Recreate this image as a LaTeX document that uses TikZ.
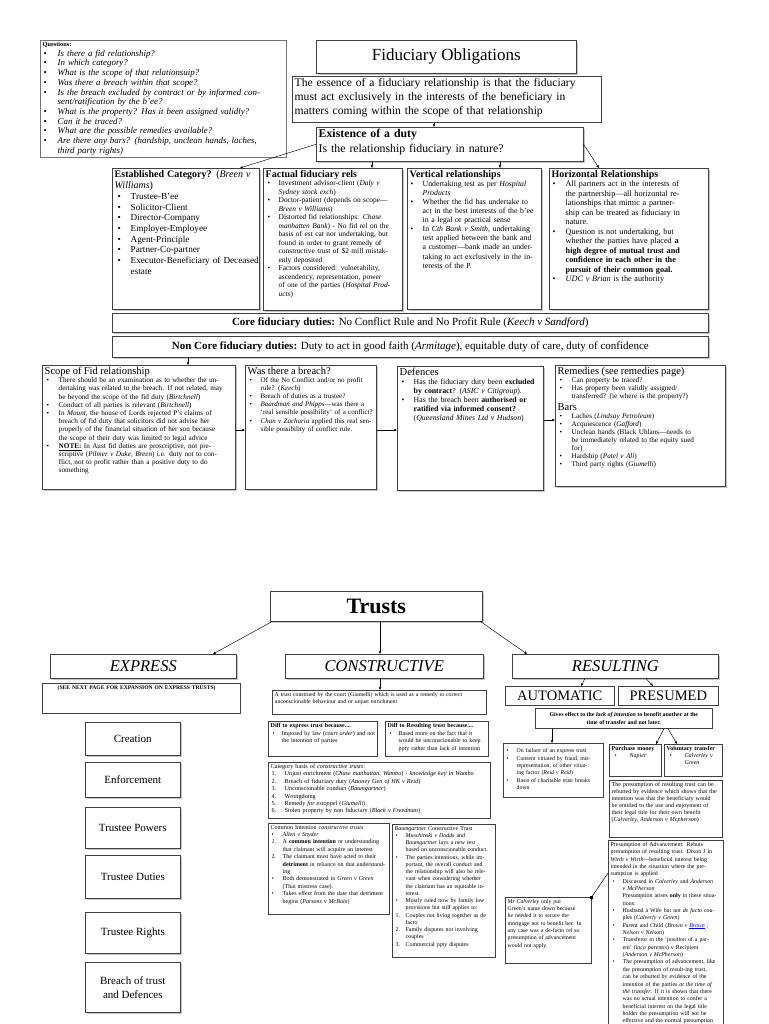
\documentclass[tikz,border=0pt]{standalone}
\usepackage{fontspec}
\setmainfont{Liberation Serif}
\usetikzlibrary{arrows.meta,shadows}
\newlength\bulind
\newlength\buloff
\newcommand\bitem{\par\hangindent=\bulind\hangafter=1\noindent\hbox to\bulind{\hskip\buloff\textbullet\hfil}\ignorespaces}
\newcommand\nitem[1]{\par\hangindent=\bulind\hangafter=1\noindent\hbox to\bulind{\hskip\buloff #1\hfil}\ignorespaces}
\newcommand\tbx[8]{%
  \pgfmathsetmacro\bxw{#4-#2}%
  \pgfmathsetmacro\bxh{#5-#3}%
  \pgfmathsetmacro\bxt{#4-#2+6}%
  \node[#6,anchor=north west,minimum width=\bxw pt,minimum height=\bxh pt,inner sep=0pt] (#1) at (#2,#3) {};
  \node[anchor=north west,inner sep=0pt,text width=\bxt pt,#7] (#1-t) at ([xshift=2.5pt,yshift=-2pt]#1.north west) {\raggedright\let\\\newline #8\par};%
}
\newcommand\cbx[7]{%
  \pgfmathsetmacro\bxw{#4-#2}%
  \pgfmathsetmacro\bxh{#5-#3}%
  \node[#6,anchor=north west,minimum width=\bxw pt,minimum height=\bxh pt,inner sep=1pt] (#1) at (#2,#3) {#7};%
}
\tikzset{
  bx/.style={draw=black!75,line width=0.6pt,fill=white},
  lbx/.style={bx,drop shadow={shadow xshift=1pt,shadow yshift=-1pt,fill=black!30}},
  sbx/.style={bx,drop shadow={shadow xshift=1.4pt,shadow yshift=-1.4pt,fill=black!45}},
  qbx/.style={draw=black!55,line width=0.9pt,fill=white},
  ar/.style={-{Stealth[length=3.2pt,width=2.6pt]},line width=0.45pt},
}
\begin{document}
\begin{tikzpicture}[x=1pt,y=-1pt]
\fill[white] (0,0) rectangle (768,1024);
\useasboundingbox (0,0) rectangle (768,1024);

% ---------------- Fiduciary obligations ----------------
\tbx{q}{40}{40}{286}{157}{qbx}{font=\fontsize{8.9}{9.7}\selectfont\itshape}{\setlength\bulind{15pt}\setlength\buloff{1pt}%
{\fontsize{6.3}{7.5}\selectfont\upshape\bfseries Questions:\par}%
\bitem Is there a fid relationship?
\bitem In which category?
\bitem What is the scope of that relationsuip?
\bitem Was there a breach within that scope?
\bitem Is the breach excluded by contract or by informed con-\\sent/ratification by the b’ee?
\bitem What is the property? Has it been assigned validly?
\bitem Can it be traced?
\bitem What are the possible remedies available?
\bitem Are there any bars? (hardship, unclean hands, laches,\\third party rights)}

\cbx{fo}{316}{40}{576}{73}{sbx,font=\fontsize{17}{19}\selectfont}{Fiduciary Obligations}

\tbx{es}{292}{76}{601}{122}{bx}{font=\fontsize{11.6}{14.2}\selectfont}{\noindent The essence of a fiduciary relationship is that the fiduciary\\must act exclusively in the interests of the beneficiary in\\matters coming within the scope of that relationship}

\tbx{ex}{316}{127}{583}{161}{sbx}{font=\fontsize{11.8}{14.5}\selectfont}{\noindent\textbf{Existence of a duty}\\Is the relationship fiduciary in nature?}

\tbx{est}{112}{168}{259}{309}{sbx}{font=\fontsize{9.2}{10.7}\selectfont}{\setlength\bulind{16pt}\setlength\buloff{3pt}%
{\fontsize{10}{11.5}\selectfont\noindent\textbf{Established Category?} (\textit{Breen v\\Williams})\par}%
\bitem Trustee-B’ee
\bitem Solicitor-Client
\bitem Director-Company
\bitem Employer-Employee
\bitem Agent-Principle
\bitem Partner-Co-partner
\bitem Executor-Beneficiary of Deceased\\estate}

\tbx{fac}{263}{168}{402}{310}{sbx}{font=\fontsize{7.4}{8.5}\selectfont}{\setlength\bulind{13pt}\setlength\buloff{2pt}%
{\fontsize{10}{11.5}\selectfont\noindent\bfseries Factual fiduciary rels\par}%
\bitem Investment advisor-client (\textit{Daly v\\Sydney stock exch})
\bitem Doctor-patient (depends on scope—\\\textit{Breen v Williams})
\bitem Distorted fid relationships: \textit{Chase\\manhatten Bank}) - No fid rel on the\\basis of est cat nor undertaking, but\\found in order to grant remedy of\\constructive trust of \$2 mill mistak-\\enly deposited
\bitem Factors considered: vulnerability,\\ascendency, representation, power\\of one of the parties (\textit{Hospital Prod-\\ucts})}

\tbx{ver}{407}{168}{541}{309}{sbx}{font=\fontsize{7.8}{9.1}\selectfont}{\setlength\bulind{13pt}\setlength\buloff{1pt}%
{\fontsize{10}{11.5}\selectfont\noindent\bfseries Vertical relationships\par}%
\bitem Undertaking test as per \textit{Hospital\\Products}
\bitem Whether the fid has undertake to\\act in the best interests of the b’ee\\in a legal or practical sense
\bitem In \textit{Cth Bank v Smith}, undertaking\\test applied between the bank and\\a customer—bank made an under-\\taking to act exclusively in the in-\\terests of the P.}

\tbx{hor}{549}{168}{708}{309}{sbx}{font=\fontsize{8.2}{9.5}\selectfont}{\setlength\bulind{14pt}\setlength\buloff{1pt}%
{\fontsize{10}{11.5}\selectfont\noindent\bfseries Horizontal Relationships\par}%
\bitem All partners act in the interests of\\the partnership—all horizontal re-\\lationships that mimic a partner-\\ship can be treated as fiduciary in\\nature.
\bitem Question is not undertaking, but\\whether the parties have placed \textbf{a\\high degree of mutual trust and\\confidence in each other in the\\pursuit of their common goal.}
\bitem \textit{UDC v Brian} is the authority}

\cbx{core}{112}{313}{708}{332}{sbx,font=\fontsize{11}{12}\selectfont}{\textbf{Core fiduciary duties:} No Conflict Rule and No Profit Rule (\textit{Keech v Sandford})}
\cbx{nc}{112}{336}{708}{357}{sbx,font=\fontsize{11}{12}\selectfont}{\textbf{Non Core fiduciary duties:} Duty to act in good faith (\textit{Armitage}), equitable duty of care, duty of confidence}

\tbx{sc}{42}{365}{235}{489}{sbx}{font=\fontsize{7.2}{8.2}\selectfont}{\setlength\bulind{14pt}\setlength\buloff{2pt}%
{\fontsize{10.5}{12}\selectfont\noindent Scope of Fid relationship\par}%
\bitem There should be an examination as to whether the un-\\dertaking was related to the breach. If not related, may\\be beyond the scope of the fid duty (\textit{Birtchnell})
\bitem Conduct of all parties is relevant (\textit{Birtchnell})
\bitem In \textit{Mount}, the house of Lords rejected P’s claims of\\breach of fid duty that solicitors did not advise her\\properly of the financial situation of her son because\\the scope of their duty was limited to legal advice
\bitem \textbf{\underline{NOTE:}} In Aust fid duties are proscriptive, not pre-\\scriptive (\textit{Pilmer v Duke, Breen}) i.e. duty not to con-\\flict, not to profit rather than a positive duty to do\\something}

\tbx{br}{245}{365}{376}{489}{sbx}{font=\fontsize{7}{8.1}\selectfont}{\setlength\bulind{13pt}\setlength\buloff{2pt}%
{\fontsize{10.5}{12}\selectfont\noindent Was there a breach?\par}%
\bitem Of the No Conflict and/or no profit\\rule? (\textit{Keech})
\bitem Breach of duties as a trustee?
\bitem \textit{Boardman and Phipps}—was there a\\‘real sensible possibility’ of a conflict?
\bitem \textit{Chan v Zacharia} applied this real sen-\\sible possibility of conflict rule.}

\tbx{de}{397}{366}{543}{490}{sbx}{font=\fontsize{7.8}{9}\selectfont}{\setlength\bulind{14pt}\setlength\buloff{2pt}%
{\fontsize{10.5}{12}\selectfont\noindent Defences\par}%
\bitem Has the fiduciary duty been \textbf{excluded\\by contract}? (\textit{ASIC v Citigroup}).
\bitem Has the breach been \textbf{authorised or\\ratified via informed consent?}\\(\textit{Queensland Mines Ltd v Hudson})}

\tbx{re}{555}{365}{725}{486}{sbx}{font=\fontsize{7.2}{8.1}\selectfont}{\setlength\bulind{14pt}\setlength\buloff{2pt}%
{\fontsize{10.5}{11.5}\selectfont\noindent Remedies (see remedies page)\par}%
\bitem Can property be traced?
\bitem Has property been validly assigned/\\transferred? (ie where is the property?)
\par{\fontsize{10.5}{11.5}\selectfont\noindent Bars\par}%
\bitem Laches (\textit{Lindsay Petroleum})
\bitem Acquiescence (\textit{Gafford})
\bitem Unclean hands (Black Uhlans—needs to\\be immediately related to the equity sued\\for)
\bitem Hardship (\textit{Patel v Ali})
\bitem Third party rights (\textit{Giumelli})}

% ---------------- Trusts ----------------
\cbx{tr}{270}{591}{482}{621}{sbx,font=\fontsize{22}{24}\selectfont\bfseries}{Trusts}
\cbx{exp}{50}{654}{236}{678}{sbx,font=\fontsize{16.5}{18}\selectfont\itshape}{EXPRESS}
\cbx{con}{285}{654}{483}{678}{sbx,font=\fontsize{16.5}{18}\selectfont\itshape}{CONSTRUCTIVE}
\cbx{res}{512}{654}{718}{678}{sbx,font=\fontsize{16.5}{18}\selectfont\itshape}{RESULTING}

\tbx{see}{42}{683}{240}{713}{lbx}{font=\fontsize{5.6}{6.5}\selectfont\bfseries}{\noindent\hspace*{13pt}(SEE NEXT PAGE FOR EXPANSION ON EXPRESS TRUSTS)}
\tbx{desc}{272}{690}{486}{714}{lbx}{font=\fontsize{5.8}{7.2}\selectfont}{\noindent A trust construed by the court (Giumelli) which is used as a remedy to correct\\unconscionable behaviour and or unjust enrichment}

\cbx{auto}{505}{686}{614}{705}{lbx,font=\fontsize{14.5}{16}\selectfont}{AUTOMATIC}
\cbx{pres}{618}{686}{718}{705}{lbx,font=\fontsize{14.5}{16}\selectfont}{PRESUMED}
\cbx{gv}{535}{708}{712}{728}{lbx,font=\fontsize{5.9}{7.6}\selectfont\bfseries,align=center}{Gives effect to the \textit{lack of intention} to benefit another at the\\time of transfer and not later.}

\cbx{lc1}{85}{722}{180}{755}{sbx,font=\fontsize{11}{13}\selectfont}{Creation}
\cbx{lc2}{85}{762}{180}{797}{sbx,font=\fontsize{11}{13}\selectfont}{Enforcement}
\cbx{lc3}{85}{807}{180}{848}{sbx,font=\fontsize{11}{13}\selectfont}{Trustee Powers}
\cbx{lc4}{85}{855}{180}{898}{sbx,font=\fontsize{11}{13}\selectfont}{Trustee Duties}
\cbx{lc5}{85}{912}{180}{953}{sbx,font=\fontsize{11}{13}\selectfont}{Trustee Rights}
\cbx{lc6}{85}{962}{180}{1012}{sbx,font=\fontsize{11}{14}\selectfont,align=center}{Breach of trust\\and Defences}

\tbx{dx}{268}{721}{377}{756}{lbx}{font=\fontsize{6}{7.6}\selectfont}{\setlength\bulind{11pt}\setlength\buloff{2pt}%
\noindent\textbf{Diff to express trust because....}
\bitem Imposed by law (\textit{court order}) and not\\the intention of parties}
\tbx{dr}{385}{721}{488}{756}{lbx}{font=\fontsize{6}{7.6}\selectfont}{\setlength\bulind{11pt}\setlength\buloff{2pt}%
\noindent\textbf{Diff to Resulting trust because....}
\bitem Based more on the fact that it\\would be unconscionable to keep\\ppty rather than lack of intention}

\tbx{cat}{268}{762}{490}{818}{lbx}{font=\fontsize{6.2}{7.4}\selectfont}{\setlength\bulind{14pt}\setlength\buloff{1pt}%
\noindent Category basis of \textit{constructive trusts}:
\nitem{1.} Unjust enrichment (\textit{Chase manhattan, Wambo}) - \textit{knowledge key in Wambo}
\nitem{2.} Breach of fiduciary duty (\textit{Attoney Gen of HK v Reid})
\nitem{3.} Unconscionable conduct (\textit{Baumgartner})
\nitem{4.} Wrongdoing
\nitem{5.} Remedy \textit{for estoppel} (\textit{Giumelli})
\nitem{6.} Stolen property by non fiduciary (\textit{Black v Freedman})}

\tbx{ci}{268}{823}{389}{914}{lbx}{font=\fontsize{6}{7.4}\selectfont}{\setlength\bulind{12pt}\setlength\buloff{1pt}%
\noindent Common Intention \textit{constructive trusts}
\bitem \textit{Allen v Snyder}
\nitem{\textit{1.}} A \textbf{common intention} or understanding\\that claimant will acquire an interest
\nitem{2.} The claimant must have acted to their\\\textbf{detriment} in reliance on that understand-\\ing
\bitem Both demonstrated in \textit{Green v Green}\\(Thai mistress case).
\bitem Takes effect from the date that detriment\\begins (\textit{Parsons v McBain})}

\tbx{bg}{392}{824}{495}{957}{lbx}{font=\fontsize{5.9}{7.25}\selectfont}{\setlength\bulind{11pt}\setlength\buloff{1pt}%
\noindent\textit{Baumgartner} Constructive Trust
\bitem \textit{Muschinski v Dodds} and\\\textit{Baumgartner} lays a new test\\based on unconscionable conduct.
\bitem The parties intentions, while im-\\portant, the overall conduct and\\the relationship will also be rele-\\vant when considering whether\\the claimant has an equitable in-\\terest.
\bitem Mostly ruled now by family law\\provisions but still applies to:
\nitem{1.} Couples not living together as de\\facto
\nitem{2.} Family disputes not involving\\couples
\nitem{3.} Commercial ppty disputes}

\tbx{al}{503}{743}{603}{797}{lbx}{font=\fontsize{5.8}{7.4}\selectfont}{\setlength\bulind{11pt}\setlength\buloff{1pt}%
\bitem On failure of an express trust
\bitem Consent vitiated by fraud, mis-\\representation, or other vitiat-\\ing factor (\textit{Reid v Reid})
\bitem Basis of charitable trust breaks\\down}

\tbx{pm}{609}{744}{661}{776}{lbx}{font=\fontsize{6}{7.6}\selectfont}{\setlength\bulind{18pt}\setlength\buloff{3pt}%
\noindent\textbf{Purchase money}
\bitem \textit{Napier}}
\tbx{vt}{664}{744}{722}{776}{lbx}{font=\fontsize{6}{7.2}\selectfont}{\setlength\bulind{18pt}\setlength\buloff{3pt}%
\noindent\textbf{Voluntary transfer}
\bitem \textit{Calverley v\\Green}}

\tbx{rb}{609}{780}{722}{837}{lbx}{font=\fontsize{6}{7.1}\selectfont}{\noindent The presumption of resulting trust can be\\rebutted by evidence which shows that the\\intention was that the beneficiary would\\be entitled to the use and enjoyment of\\their legal title for their own benefit\\(\textit{Calverley, Anderson v Mcpherson})}

\tbx{adv}{608}{840}{723}{1040}{lbx}{font=\fontsize{5.9}{7.35}\selectfont}{\setlength\bulind{12pt}\setlength\buloff{2pt}%
\noindent Presumption of Advancement: Rebuts\\presumption of resulting trust. Dixon J in\\\textit{Wirth v Wirth}—beneficial interest being\\intended in the situation where the pre-\\sumption is applied
\bitem Discussed in \textit{Calverley} and \textit{Anderson\\v McPherson}\\Presumption arises \textbf{only} in these situa-\\tions:
\bitem Husband à Wife but not \textit{de facto} cou-\\ples (\textit{Calverly v Green})
\bitem Parent and Child (\textit{Brown v} \textcolor{blue}{\underline{\textit{Brown}}} ;\\\textit{Nelson v Nelson})
\bitem Transferor in the ‘position of a par-\\ent’ (\textit{loco parentis}) v Recipient\\(\textit{Anderson v McPherson})
\bitem The presumption of advancement, like\\the presumption of result-ing trust,\\can be rebutted by evidence of the\\intention of the parties \textit{at the time of\\the transfer}. If it is shown that there\\was no actual intention to confer a\\beneficial interest on the legal title\\holder the presumption will not be\\effective and the normal presumption}

\tbx{cal}{505}{897}{591}{963}{lbx}{font=\fontsize{5.8}{7.3}\selectfont}{\noindent\textit{Mr Calverley} only put\\Green’s name down because\\he needed it to secure the\\mortgage not to benefit her. In\\any case was a de-facto rel so\\presumption of advancement\\would not apply.}

% ---------------- connectors ----------------
\draw[ar] (434,0 |- es.south) -- (434,0 |- ex.north);
\draw[ar] (ex.west) -- (240,0 |- est.north);
\draw[ar] (372,0 |- ex.south) -- (372,0 |- fac.north);
\draw[ar] (500,0 |- ex.south) -- (500,0 |- ver.north);
\draw[ar] (ex.east) -- (599,0 |- hor.north);
\draw[ar] (188,0 |- nc.south) -- (188,0 |- sc.north);
\draw[ar] (sc.east |- 0,430) -- (br.west |- 0,430);
\draw[ar] (br.east |- 0,430) -- (de.west |- 0,430);
\draw[ar] (de.east |- 0,420) -- (re.west |- 0,420);

\draw[ar] ([xshift=2pt]tr.south west) -- (213,0 |- exp.north);
\draw[ar] (380,0 |- tr.south) -- (380,0 |- con.north);
\draw[ar] ([xshift=-2pt]tr.south east) -- (527,0 |- res.north);
\draw[ar] (380,0 |- con.south) -- (380,0 |- desc.north);
\draw[ar] (585,0 |- res.south) -- (581,0 |- auto.north);
\draw[ar] (646,0 |- res.south) -- (653,0 |- pres.north);
\draw[ar] (552,0 |- gv.south) -- (552,0 |- al.north);
\draw[ar] (664,0 |- gv.south) -- (656,0 |- pm.north);
\draw[ar] (668,0 |- gv.south) -- (677,0 |- vt.north);
\draw[line width=0.5pt] (cal.north east) -- (adv.west |- 0,873);
\fill ([shift={(-1.5pt,-1.5pt)}]cal.north east) rectangle ++(3pt,3pt);
\end{tikzpicture}
\end{document}
